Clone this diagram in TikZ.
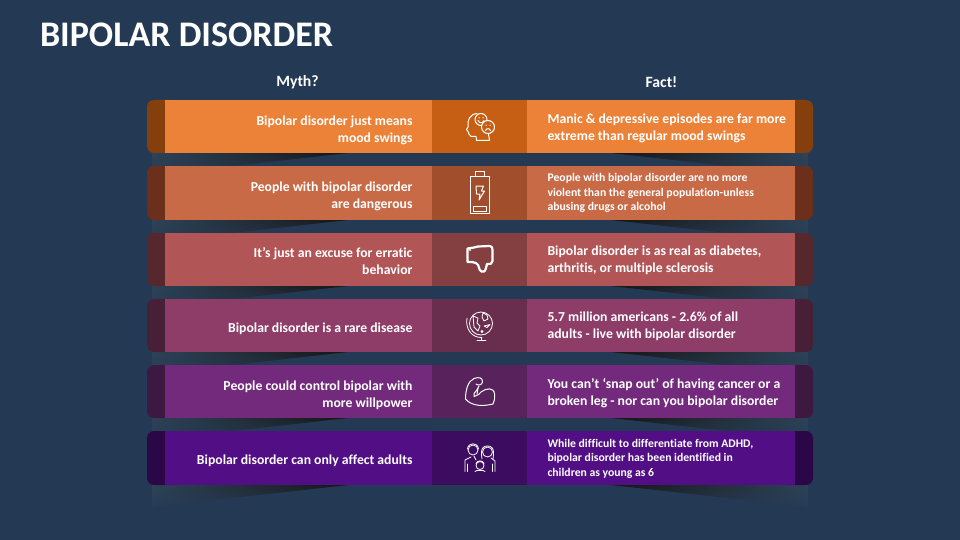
\documentclass[tikz,border=0pt]{standalone}
\usepackage{fontspec}
\setmainfont[Ligatures=NoCommon]{Carlito}
\definecolor{slidebg}{HTML}{243A54}
\definecolor{shadeedge}{HTML}{2E4358}
\definecolor{shademid}{HTML}{444444}
\definecolor{shadedark}{HTML}{161616}
\definecolor{barA}{HTML}{EC8238}
\definecolor{midA}{HTML}{C65F14}
\definecolor{capA}{HTML}{843F0C}
\definecolor{barB}{HTML}{C96A47}
\definecolor{midB}{HTML}{A04E2C}
\definecolor{capB}{HTML}{6B2F1B}
\definecolor{barC}{HTML}{B25557}
\definecolor{midC}{HTML}{843F41}
\definecolor{capC}{HTML}{56272C}
\definecolor{barD}{HTML}{8E3C68}
\definecolor{midD}{HTML}{692E4E}
\definecolor{capD}{HTML}{471F37}
\definecolor{barE}{HTML}{732A7C}
\definecolor{midE}{HTML}{58235C}
\definecolor{capE}{HTML}{3D1840}
\definecolor{barF}{HTML}{520E85}
\definecolor{midF}{HTML}{3C0C61}
\definecolor{capF}{HTML}{2C0747}
\usetikzlibrary{positioning, fadings}
\tikzset{
    mythtext/.style={text=white, font=\fontsize{13.7}{17}\selectfont\bfseries, align=right, anchor=east},
    facttext/.style={text=white, font=\fontsize{13.7}{17}\selectfont\bfseries, align=left, anchor=west},
    smalltext/.style={text=white, font=\fontsize{11.7}{14.5}\selectfont\bfseries, align=left, anchor=west},
    headtext/.style={text=white, font=\fontsize{15.7}{18}\selectfont\bfseries},
    icon/.style={draw=white, line width=1pt, fill=none, line join=round, line cap=round},
    thinicon/.style={icon, line width=.8pt}
}
\tikzfading[name=shadowfade, top color=transparent!0, bottom color=transparent!70]
\newcommand{\barrow}[3]{% top, bottom, colour letter
    \shade[left color=shadeedge, middle color=shademid, right color=shadedark, path fading=shadowfade]
        (152,#2) -- (348,#2) -- (152,#2+22) -- cycle;
    \shade[left color=shadedark, middle color=shademid, right color=shadeedge, path fading=shadowfade]
        (611,#2) -- (808,#2) -- (808,#2+22) -- cycle;
    \fill[cap#3, rounded corners=7pt] (147,#1) rectangle (180,#2);
    \fill[cap#3, rounded corners=7pt] (780,#1) rectangle (813,#2);
    \fill[bar#3] (165,#1) rectangle (795,#2);
    \fill[mid#3] (432,#1) rectangle (527,#2);
}
\begin{document}
\begin{tikzpicture}[x=1pt,y=-1pt]
    \useasboundingbox (0,0) rectangle (960,540);
    \fill[slidebg] (0,0) rectangle (960,540);

    \node[text=white, font=\fontsize{36}{40}\selectfont\bfseries, anchor=west] (title) at (36.5,34.5) {BIPOLAR DISORDER};
    \node[headtext] (myth) at (297.5,82) {Myth?};
    \node[headtext] (fact) at (661.5,82) {Fact!};

    % bars, the shadow of each one falls on the next
    \barrow{100}{153}{A}
    \barrow{166}{220}{B}
    \barrow{233}{286}{C}
    \barrow{299}{352}{D}
    \barrow{365}{418}{E}
    \barrow{431}{485}{F}

    % left column
    \node[mythtext] (m1) at (416,130) {Bipolar disorder just means\\mood swings};
    \node[mythtext] (m2) at (416,196) {People with bipolar disorder\\are dangerous};
    \node[mythtext] (m3) at (416,261) {It’s just an excuse for erratic\\behavior};
    \node[mythtext] (m4) at (416,329) {Bipolar disorder is a rare disease};
    \node[mythtext] (m5) at (416,395) {People could control bipolar with\\more willpower};
    \node[mythtext] (m6) at (416,461) {Bipolar disorder can only affect adults};

    % right column
    \node[facttext] (f1) at (544,128) {Manic \& depressive episodes are far more\\extreme than regular mood swings};
    \node[smalltext] (f2) at (544,193) {People with bipolar disorder are no more\\violent than the general population-unless\\abusing drugs or alcohol};
    \node[facttext] (f3) at (544,260) {Bipolar disorder is as real as diabetes,\\arthritis, or multiple sclerosis};
    \node[facttext] (f4) at (544,326) {5.7 million americans - 2.6\% of all\\adults - live with bipolar disorder};
    \node[facttext] (f5) at (544,393) {You can’t ‘snap out’ of having cancer or a\\broken leg - nor can you bipolar disorder};
    \node[smalltext] (f6) at (544,458.5) {While difficult to differentiate from ADHD,\\bipolar disorder has been identified in\\children as young as 6};

    % head with two faces
    \draw[icon] (476.5,140.5) -- (476,136.5) -- (471,136.5) -- (469,134) -- (468,131.5) -- (466.5,129.5) -- (468,127)
        .. controls (467,120) and (470,114) .. (477,113.5);
    \draw[icon] (476.5,140.5) -- (489.5,140.5) -- (488.5,134);
    \draw[icon] (481,119.5) circle (6);
    \draw[icon, fill=midA] (488,127) circle (6.5);
    \draw[icon] (479,117.5) -- (479.2,118) (483,117.5) -- (483.2,118) (478,120.5) .. controls (479.5,123.5) and (482.5,123.5) .. (484,120.5);
    \draw[icon] (486,125) -- (486.2,125.5) (490,125) -- (490.2,125.5) (485.5,130.5) .. controls (487,128) and (489,128) .. (490.5,130.5);

    % battery
    \draw[icon] (470.5,176.5) rectangle (489.5,213);
    \draw[icon] (475.5,172) rectangle (484.5,176.5);
    \draw[icon] (473.5,206.5) rectangle (486.5,211);
    \draw[icon] (476,186) -- (483.5,186) -- (481.5,191) -- (484.5,191) -- (479,200) -- (480,194) -- (476.5,194) -- cycle;

    % thumb down
    \draw[icon, line width=2.2pt] (467.5,248.5) -- (474,247.5) -- (478,246.5) -- (490,246) .. controls (492,246) and (492.5,248) .. (492.5,250)
        -- (492.5,261) .. controls (492.5,264) and (490,264.5) .. (487,264) -- (486,268) .. controls (485,272) and (483,272.5) .. (481.5,271.5)
        .. controls (478,270) and (480,265) .. (476,263) -- (472,262) -- (467.5,262) -- cycle;
    \fill[white] (470,250) circle (1.2);

    % globe
    \draw[thinicon] (481,323.5) circle (11.5);
    \draw[thinicon] (467,318) .. controls (465,329) and (472,338) .. (482,337.5);
    \draw[thinicon] (481.5,337.5) -- (481.5,340.5) (477,340.5) -- (486,340.5);
    \draw[thinicon] (483,313) -- (487,315) -- (488,319) -- (484,321) -- (482,317) -- cycle;
    \draw[thinicon] (484,326) -- (490,324.5) -- (487,327.5) -- cycle;
    \draw[thinicon] (473,316) -- (478,318) -- (477,323) -- (480,326) -- (478,331) -- (474,327) -- cycle;
    \draw[thinicon] (482,331.5) circle (1);

    % flexed arm
    \draw[icon] (465.5,399) .. controls (465.5,390) and (468,381) .. (474,378.5) .. controls (479,376.5) and (483,378) .. (482.5,382)
        .. controls (482,385) and (478,386) .. (476,384);
    \draw[icon] (479,386) .. controls (478,389) and (476,391) .. (474,393.5) -- (474,396.5) .. controls (478,395) and (480,394) .. (481,392)
        .. controls (486,388) and (494,387) .. (494.5,394) .. controls (495,399) and (494,402) .. (493,404)
        .. controls (485,406) and (472,407) .. (465.5,399);
    \draw[icon] (477,394) -- (478,388);

    % family
    \draw[thinicon] (473,450) circle (5) (487.5,452) circle (5);
    \draw[thinicon] (467.5,449) .. controls (468,442) and (478,442) .. (478.5,449);
    \draw[thinicon] (482,459) .. controls (480,447) and (484,446) .. (487.5,446) .. controls (491,446) and (495,447) .. (493,459);
    \draw[thinicon] (480,465.5) circle (4);
    \draw[thinicon] (476,463.5) .. controls (477,460) and (483,460) .. (484,463.5);
    \draw[thinicon] (465,471.5) -- (465,460) -- (471,457) (467.5,471.5) -- (467.5,464) (492.5,471.5) -- (492.5,464) (495,471.5) -- (495,461) -- (491,458)
        (475,471.5) .. controls (475,470) and (485,470) .. (485,471.5) (474,456) -- (476,460);
\end{tikzpicture}
\end{document}
